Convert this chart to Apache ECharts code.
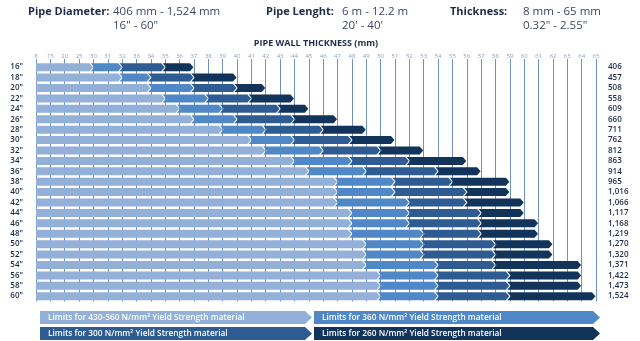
<!DOCTYPE html>
<html>
<head>
<meta charset="utf-8">
<script src="https://cdn.jsdelivr.net/npm/echarts@6/dist/echarts.min.js"></script>
<style>
  html, body { margin: 0; padding: 0; background: #ffffff; }
  #chart { width: 640px; height: 341px; }
</style>
</head>
<body>
<div id="chart"></div>
<script>
// Wall thickness tick labels (mm) along the top axis
const thicknessTicks = ['8','15','20','25','30','31','32','33','34','35','36','37','38','39','40',
  '41','42','43','44','45','46','47','48','49','50','51','52','53','54','55','56','57','58','59',
  '60','61','62','63','64','65'];

// Pipe outside diameters
const diameterInches = ['16"','18"','20"','22"','24"','26"','28"','30"','32"','34"','36"','38"',
  '40"','42"','44"','46"','48"','50"','52"','54"','56"','58"','60"'];
const diameterMm = ['406','457','508','558','609','660','711','762','812','863','914','965',
  '1,016','1,066','1,117','1,168','1,219','1,270','1,320','1,371','1,422','1,473','1,524'];

// Maximum wall thickness (mm) per diameter, by material yield strength
const minThickness = 8;
const limit430to560 = [30,32,34,35,36,37,39,41,42,44,45,47,47,47,48,48,48,49,49,49,50,50,50];
const limit360 = [32,34,37,38,39,40,42,44,46,48,49,51,51,52,52,52,53,53,53,54,54,54,54];
const limit300 = [35,37,40,41,43,44,46,48,50,52,54,55,56,56,57,57,57,58,58,58,59,59,59];
const limit260 = [37,40,42,44,45,47,49,51,53,56,57,59,59,60,60,61,61,62,62,64,64,64,65];

const legendLabels = [
  'Limits for 430-560 N/mm² Yield Strength material',
  'Limits for 360 N/mm² Yield Strength material',
  'Limits for 300 N/mm² Yield Strength material',
  'Limits for 260 N/mm² Yield Strength material'
];

const colors = ['#93b0d9', '#4f87c7', '#2e5b92', '#13345a'];
const FONT = '"Open Sans", sans-serif';
const NAVY = '#1f2c48';
const GREY = '#3b475f';

const tickIndex = v => thicknessTicks.indexOf(String(v));

// each segment: [row, startTick, endTick, notched]
function segments(starts, ends, notched) {
  return ends.map((e, i) => [i, tickIndex(starts === null ? minThickness : starts[i]), tickIndex(e), notched ? 1 : 0]);
}

function renderArrow(params, api) {
  const row = api.value(0);
  const s = api.value(1), e = api.value(2), notch = api.value(3);
  const a = api.coord([s, row]);
  const b = api.coord([e, row]);
  const h = 8, d = 3.5;
  const yc = a[1], yt = yc - h / 2, yb = yc + h / 2;
  const xe = b[0] - 0.5;
  const xb = xe - d;
  let pts;
  if (notch) {
    const xn = a[0] + 0.9;
    pts = [[xn - d, yt], [xb, yt], [xe, yc], [xb, yb], [xn - d, yb], [xn, yc]];
  } else {
    pts = [[a[0], yt], [xb, yt], [xe, yc], [xb, yb], [a[0], yb]];
  }
  return {
    type: 'polygon',
    shape: { points: pts },
    style: { fill: api.visual('color') }
  };
}

const seriesDefs = [
  { name: legendLabels[0], data: segments(null, limit430to560, false) },
  { name: legendLabels[1], data: segments(limit430to560, limit360, true) },
  { name: legendLabels[2], data: segments(limit360, limit300, true) },
  { name: legendLabels[3], data: segments(limit300, limit260, true) }
];

// legend boxes drawn as arrow-shaped banners
function banner(x0, x1, y0, hgt, color, text) {
  const tip = 7;
  return [{
    type: 'polygon',
    shape: { points: [[x0, y0], [x1 - tip, y0], [x1, y0 + hgt / 2], [x1 - tip, y0 + hgt], [x0, y0 + hgt]] },
    style: { fill: color }
  }, {
    type: 'text',
    x: x0 + 8, y: y0 + hgt / 2,
    style: { text: text, fill: '#ffffff', font: '600 8.3px ' + FONT, textVerticalAlign: 'middle' }
  }];
}

function headerText(x, y, text, bold, color) {
  return {
    type: 'text', x: x, y: y,
    style: { text: text, fill: color, font: (bold ? 'bold 11px ' : '11.5px ') + FONT, textVerticalAlign: 'middle' }
  };
}

const graphics = [
  headerText(28, 12, 'Pipe Diameter:', true, NAVY),
  headerText(113, 12, '406 mm - 1,524 mm', false, GREY),
  headerText(113, 26, '16" - 60"', false, GREY),
  headerText(266, 12, 'Pipe Lenght:', true, NAVY),
  headerText(342, 12, '6 m - 12.2 m', false, GREY),
  headerText(342, 26, "20' - 40'", false, GREY),
  headerText(450, 12, 'Thickness:', true, NAVY),
  headerText(523, 12, '8 mm - 65 mm', false, GREY),
  headerText(523, 26, '0.32" - 2.55"', false, GREY)
].concat(
  banner(40, 312, 311, 13, colors[0], legendLabels[0]),
  banner(314, 600, 311, 13, colors[1], legendLabels[1]),
  banner(40, 312, 327, 13, colors[2], legendLabels[2]),
  banner(314, 600, 327, 13, colors[3], legendLabels[3])
);

const chart = echarts.init(document.getElementById('chart'), null, { renderer: 'canvas' });
chart.setOption({
  animation: false,
  backgroundColor: '#ffffff',
  textStyle: { fontFamily: FONT },
  grid: { left: 36, right: 44, top: 62, bottom: 39.6, containLabel: false, outerBoundsMode: 'none' },
  xAxis: {
    type: 'category',
    position: 'top',
    data: thicknessTicks,
    boundaryGap: false,
    name: 'PIPE WALL THICKNESS (mm)',
    nameLocation: 'middle',
    nameGap: 13,
    nameTextStyle: { color: NAVY, fontSize: 9, fontWeight: 'bold', fontFamily: FONT },
    axisLine: { show: false },
    axisTick: { show: true, length: 3, interval: 0, lineStyle: { color: '#6f92c2' } },
    axisLabel: { interval: 0, margin: 3, fontSize: 6, color: '#8c9fbb' },
    splitLine: { show: true, interval: 0, lineStyle: { color: '#6f92c2', width: 1 } }
  },
  yAxis: [{
    type: 'category',
    data: diameterInches,
    inverse: true,
    name: 'PIPE OUTSIDE DIAMETER  (inches)',
    nameLocation: 'middle',
    nameRotate: 90,
    nameGap: 31,
    nameTextStyle: { color: NAVY, fontSize: 7, fontWeight: 'bold', fontFamily: FONT },
    axisLine: { show: false }, axisTick: { show: false }, splitLine: { show: false },
    axisLabel: { margin: 13, fontSize: 8, fontWeight: 600, color: NAVY }
  }, {
    type: 'category',
    data: diameterMm,
    inverse: true,
    position: 'right',
    name: 'PIPE OUTSIDE DIAMETER  (mm)',
    nameLocation: 'middle',
    nameRotate: 90,
    nameGap: 38,
    nameTextStyle: { color: NAVY, fontSize: 7, fontWeight: 'bold', fontFamily: FONT },
    axisLine: { show: false }, axisTick: { show: false }, splitLine: { show: false },
    axisLabel: { margin: 12, fontSize: 8, fontWeight: 600, color: NAVY }
  }],
  series: seriesDefs.map((d, i) => ({
    type: 'custom',
    name: d.name,
    xAxisIndex: 0,
    yAxisIndex: 0,
    color: colors[i],
    renderItem: renderArrow,
    encode: { x: [1, 2], y: 0 },
    data: d.data
  })),
  graphic: graphics
});
</script>
</body>
</html>
